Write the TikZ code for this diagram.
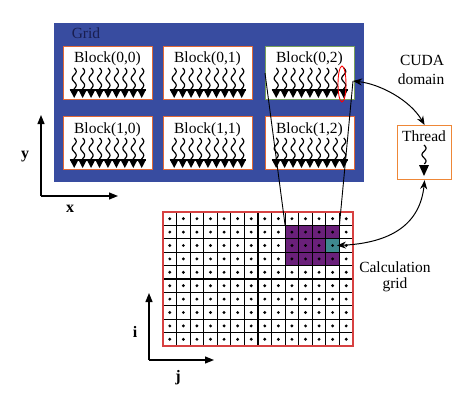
\documentclass[tikz,border=0pt]{standalone}
\usepackage{fontspec}
\setmainfont{Liberation Serif}
\usetikzlibrary{arrows.meta,shapes.geometric}
\definecolor{gridblue}{RGB}{56,76,160}
\definecolor{navy}{RGB}{25,30,80}
\definecolor{blockorange}{RGB}{225,105,55}
\definecolor{blockgreen}{RGB}{120,160,90}
\definecolor{cellpurple}{RGB}{106,32,122}
\definecolor{cellteal}{RGB}{62,136,142}
\definecolor{gridred}{RGB}{215,65,65}
\definecolor{threadorange}{RGB}{238,135,55}
\tikzset{
  blockbox/.style={fill=white, line width=1.2pt, minimum width=89pt, minimum height=53pt, inner sep=0pt},
  squigstyle/.style={line width=1.2pt},
  axisarrow/.style={line width=1.2pt, -{Triangle[length=9pt,width=7pt]}},
  linkline/.style={line width=0.9pt},
  dblarrow/.style={line width=1pt, {Stealth[length=9pt,width=7pt]}-{Stealth[length=9pt,width=7pt]}},
  lbl/.style={inner sep=0pt},
  axlbl/.style={inner sep=0pt, font=\fontsize{16}{18}\selectfont\bfseries}
}
\begin{document}
\begin{tikzpicture}[x=1pt,y=-1pt,font=\fontsize{15.5}{18}\selectfont]
\useasboundingbox (0,0) rectangle (474,404);
% CUDA grid
\node[fill=gridblue, minimum width=310pt, minimum height=159pt, inner sep=0pt, anchor=north west] (grid) at (54,23) {};
\node[lbl, text=navy] (gridlbl) at (86,33) {Grid};
\foreach \r/\c/\L/\T/\col in {0/0/63/46/blockorange, 0/1/163/46/blockorange, 0/2/265/46/blockgreen, 1/0/63/116/blockorange, 1/1/163/116/blockorange, 1/2/265/116/blockorange} {
  \node[blockbox, draw=\col, anchor=north west] (b\r\c) at (\L,\T) {};
  \node[lbl, anchor=base] (t\r\c) at (\L+44.5,\T+17) {Block(\r,\c)};
  \foreach \i in {0,...,8} {
    \pgfmathsetmacro\cx{\L+11.2+8.44*\i}
    \draw[squigstyle] plot[domain=0:21,samples=30,smooth,variable=\t] ({\cx+2*sin(\t*26)},{\T+22+\t});
    \fill (\cx-4.4,\T+43.5) -- (\cx+4.4,\T+43.5) -- (\cx,\T+52) -- cycle;
  }
  \draw[line width=1.4pt] (\L+7,\T+44) -- (\L+83,\T+44);
}
\node[draw=red, line width=0.9pt, ellipse, minimum width=8pt, minimum height=36pt, inner sep=0pt] (ell) at (342,84) {};
% calculation grid
\fill[cellpurple] (285.1,225.4) rectangle (339.4,265.6);
\fill[cellteal] (325.9,238.8) rectangle (339.4,252.2);
\foreach \i in {1,...,13} \draw[line width=1.1pt] (163+\i*13.571,212) -- ++(0,134);
\foreach \j in {1,...,9} \draw[line width=1.1pt] (163,212+\j*13.4) -- ++(190,0);
\draw[gridred, line width=1.1pt] (163,212) rectangle (353,346);
\foreach \i in {0,...,13} \foreach \j in {0,...,9} \fill (163+13.571*\i+6.79,212+13.4*\j+6.7) circle (1.6);
\coordinate (pTL) at (285.1,225.4);
\coordinate (pTR) at (339.4,225.4);
\coordinate (tealpt) at (337,245.5);
\coordinate (ellR) at (353,81);
% links block -> region
\draw[linkline] (b02.west) -- (pTL);
\draw[linkline] (ellR) -- (pTR);
% thread box
\node[draw=threadorange, fill=white, line width=1.2pt, minimum width=54pt, minimum height=54pt, inner sep=0pt, anchor=north west] (thread) at (397,125) {};
\node[lbl] (threadlbl) at (424,136) {Thread};
\draw[squigstyle] plot[domain=0:19,samples=30,smooth,variable=\t] ({424+2*sin(\t*28)},{145+\t});
\fill (419,165) -- (429,165) -- (424,176) -- cycle;
% labels
\node[lbl] (cuda) at (422,60) {CUDA};
\node[lbl] (domain) at (421,79) {domain};
\node[lbl] (calc) at (395,267) {Calculation};
\node[lbl] (calcgrid) at (395,285) {grid};
% curved arrows
\draw[dblarrow] (ellR) .. controls (380,84) and (410,100) .. (thread.north);
\draw[dblarrow] (thread.south) .. controls (420,225) and (390,243) .. (tealpt);
% axes
\coordinate (o1) at (41,196);
\coordinate (y1) at (41,115);
\coordinate (x1) at (118,196);
\draw[axisarrow] (o1) -- (y1);
\draw[axisarrow] (o1) -- (x1);
\node[axlbl] (ylbl) at (25,157) {y};
\node[axlbl] (xlbl) at (70,209) {x};
\coordinate (o2) at (149,360);
\coordinate (i2) at (149,293);
\coordinate (j2) at (214,360);
\draw[axisarrow] (o2) -- (i2);
\draw[axisarrow] (o2) -- (j2);
\node[axlbl] (ilbl) at (135,332) {i};
\node[axlbl] (jlbl) at (178,378) {j};
\end{tikzpicture}
\end{document}
